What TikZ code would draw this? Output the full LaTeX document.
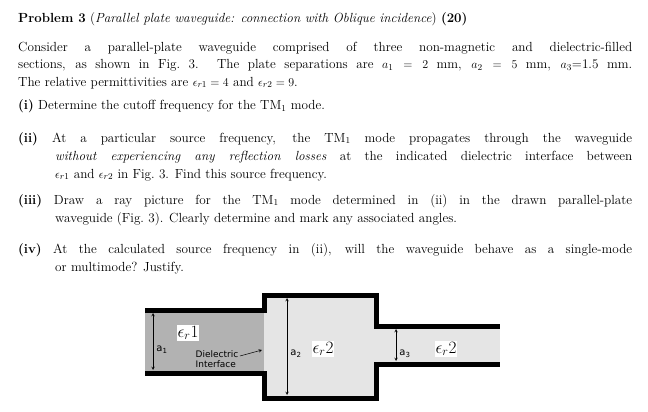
\documentclass[tikz,border=0pt]{standalone}
\usepackage{amsmath}
\usepackage{fontspec}
\newfontfamily\figfont{DejaVu Sans}
\newcommand{\fl}[1]{\hbox to 614pt{#1}}
\newcommand{\il}[1]{\hbox to 577pt{#1}}
\begin{document}
\begin{tikzpicture}[x=1pt,y=-1pt,
  ln/.style={anchor=base west,inner sep=0pt,font=\fontsize{13.2}{15}\selectfont},
  wall/.style={line width=5pt},
  epsl/.style={fill=white,inner sep=1pt,font=\fontsize{17}{17}\selectfont},
  alab/.style={font=\figfont\fontsize{10}{10}\selectfont,inner sep=0pt},
  dim/.style={<->,>=stealth,line width=0.5pt}]
\useasboundingbox (0,0) rectangle (648,412);
\node[ln] (title) at (18,23) {\textbf{Problem 3} (\textit{Parallel plate waveguide: connection with Oblique incidence}) \textbf{(20)}};
\node[ln] (l1) at (18,52) {\fl{Consider a parallel-plate waveguide comprised of three non-magnetic and dielectric-filled}};
\node[ln] (l2) at (18,69) {\fl{sections, as shown in Fig.~3. The plate separations are $a_1=2$~mm, $a_2=5$~mm, $a_3$=1.5~mm.}};
\node[ln] (l3) at (18,86) {The relative permittivities are $\epsilon_{r1}=4$ and $\epsilon_{r2}=9$.};
\node[ln] (i1) at (18,110) {\textbf{(i)} Determine the cutoff frequency for the TM$_1$ mode.};
\node[ln] (ii1) at (18,142) {\fl{\textbf{(ii)} At a particular source frequency, the TM$_1$ mode propagates through the waveguide}};
\node[ln] (ii2) at (55,160) {\il{\textit{without experiencing any reflection losses} at the indicated dielectric interface between}};
\node[ln] (ii3) at (55,178) {$\epsilon_{r1}$ and $\epsilon_{r2}$ in Fig.~3. Find this source frequency.};
\node[ln] (iii1) at (18,204) {\fl{\textbf{(iii)} Draw a ray picture for the TM$_1$ mode determined in (ii) in the drawn parallel-plate}};
\node[ln] (iii2) at (55,222) {waveguide (Fig.~3). Clearly determine and mark any associated angles.};
\node[ln] (iv1) at (18,253) {\fl{\textbf{(iv)} At the calculated source frequency in (ii), will the waveguide behave as a single-mode}};
\node[ln] (iv2) at (55,271) {or multimode? Justify.};
% fills
\fill[gray!60] (145,310) rectangle (264,373);
\fill[gray!20] (264,295) rectangle (376,398);
\fill[gray!20] (376,326) rectangle (500,364);
% walls
\draw[wall] (145,310) -- (264,310) -- (264,295) -- (376,295) -- (376,326) -- (500,326);
\draw[wall] (145,373) -- (264,373) -- (264,398) -- (376,398) -- (376,364) -- (500,364);
% dims
\coordinate (a1t) at (153,313); \coordinate (a1b) at (153,370);
\draw[dim] (a1t) -- (a1b);
\coordinate (a2t) at (287,298); \coordinate (a2b) at (287,395);
\draw[dim] (a2t) -- (a2b);
\coordinate (a3t) at (396,329); \coordinate (a3b) at (396,361);
\draw[dim] (a3t) -- (a3b);
\node[alab] (la1) at (162,350) {a$_{\text{1}}$};
\node[alab] (la2) at (296,354) {a$_{\text{2}}$};
\node[alab] (la3) at (405,354) {a$_{\text{3}}$};
\node[epsl] (e1) at (188,333) {$\epsilon_{r}1$};
\node[epsl] (e2) at (323,349) {$\epsilon_{r}2$};
\node[epsl] (e3) at (446,349) {$\epsilon_{r}2$};
\node[font=\figfont\fontsize{9}{10}\selectfont,align=left,inner sep=0pt] (di) at (217,359) {Dielectric\\Interface};
\coordinate (ifc) at (262,350);
\draw[->,>=stealth,line width=0.5pt] (240,356) -- (ifc);
\end{tikzpicture}
\end{document}
